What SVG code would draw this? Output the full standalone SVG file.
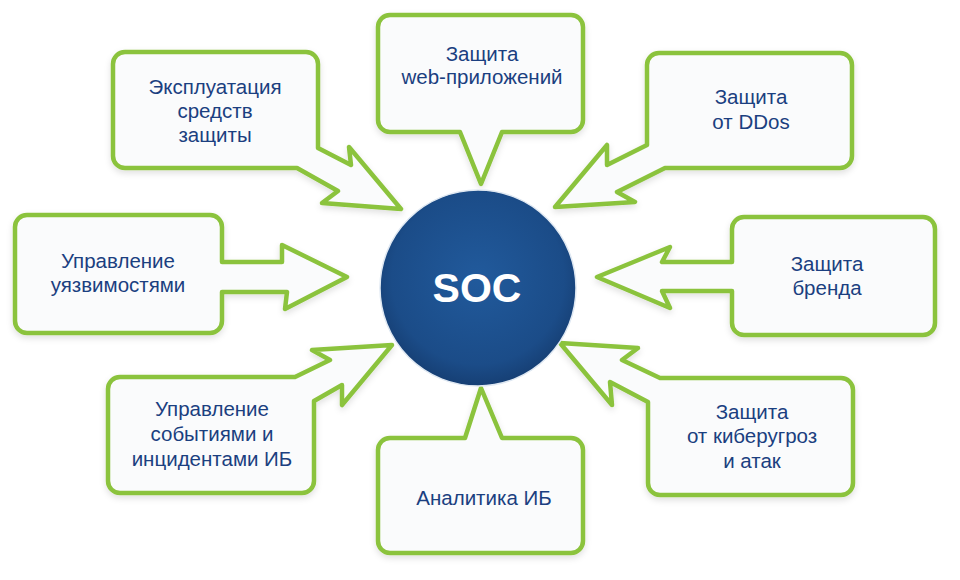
<svg xmlns="http://www.w3.org/2000/svg" width="960" height="580" viewBox="0 0 960 580">
<defs>
<radialGradient id="socFill" cx="50%" cy="45%" r="55%">
<stop offset="0" stop-color="#215a9c"/>
<stop offset="0.8" stop-color="#1b4c88"/>
<stop offset="1" stop-color="#163f74"/>
</radialGradient>
<filter id="sh" x="-10%" y="-10%" width="120%" height="130%">
<feDropShadow dx="0" dy="3" stdDeviation="3" flood-color="#000" flood-opacity="0.12"/>
</filter>
<style>
.box{fill:#fafbfc;stroke:#8bc33c;stroke-width:4.5;stroke-linejoin:round;filter:url(#sh)}
.lbl{font-family:"Liberation Sans",Arial,sans-serif;font-size:20.5px;fill:#1b3f80;text-anchor:middle}
.soc{font-family:"Liberation Sans",Arial,sans-serif;font-size:41px;font-weight:bold;fill:#ffffff;text-anchor:middle}
</style>
</defs>
<rect width="960" height="580" fill="#ffffff"/>

<g id="node-exploit">
<path class="box" d="M125,52 H306 A12,12 0 0 1 318,64 V148 L351,165 L349,147 L401,209 L322,203 L338,191 L297,168 H125 A12,12 0 0 1 113,156 V64 A12,12 0 0 1 125,52 Z"/>
<text class="lbl" x="215" y="94">Эксплуатация</text>
<text class="lbl" x="215" y="118">средств</text>
<text class="lbl" x="215" y="142">защиты</text>
</g>

<g id="node-web">
<path class="box" d="M390,15 H571 A12,12 0 0 1 583,27 V120 A12,12 0 0 1 571,132 H502 L481,184 L460,132 H390 A12,12 0 0 1 378,120 V27 A12,12 0 0 1 390,15 Z"/>
<text class="lbl" x="482" y="61">Защита</text>
<text class="lbl" x="482" y="84">web-приложений</text>
</g>

<g id="node-ddos">
<path class="box" d="M659,53 H840 A12,12 0 0 1 852,65 V156 A12,12 0 0 1 840,168 H665 L617,192 L635,202 L555,207 L607,145 L607,165 L647,145 V65 A12,12 0 0 1 659,53 Z"/>
<text class="lbl" x="751" y="104">Защита</text>
<text class="lbl" x="751" y="129">от DDos</text>
</g>

<g id="node-vuln">
<path class="box" d="M27,215 H210 A12,12 0 0 1 222,227 V262 H282 L282,245 L347,277 L285,309 L287,292 H222 V321 A12,12 0 0 1 210,333 H27 A12,12 0 0 1 15,321 V227 A12,12 0 0 1 27,215 Z"/>
<text class="lbl" x="118" y="268">Управление</text>
<text class="lbl" x="118" y="292">уязвимостями</text>
</g>

<g id="node-brand">
<path class="box" d="M744,217 H923 A12,12 0 0 1 935,229 V323 A12,12 0 0 1 923,335 H744 A12,12 0 0 1 732,323 V291 H662 L670,308 L597,277 L670,247 L662,262 H732 V229 A12,12 0 0 1 744,217 Z"/>
<text class="lbl" x="827" y="271">Защита</text>
<text class="lbl" x="827" y="295">бренда</text>
</g>

<g id="node-events">
<path class="box" d="M120,377 H295 L330,360 L312,350 L392,345 L342,405 L342,385 L314,401 V481 A12,12 0 0 1 302,493 H120 A12,12 0 0 1 108,481 V389 A12,12 0 0 1 120,377 Z"/>
<text class="lbl" x="212" y="416">Управление</text>
<text class="lbl" x="212" y="441">событиями и</text>
<text class="lbl" x="212" y="466">инцидентами ИБ</text>
</g>

<g id="node-analytics">
<path class="box" d="M390,438 H465 L481,388 L502,438 H571 A12,12 0 0 1 583,450 V541 A12,12 0 0 1 571,553 H390 A12,12 0 0 1 378,541 V450 A12,12 0 0 1 390,438 Z"/>
<text class="lbl" x="484" y="505">Аналитика ИБ</text>
</g>

<g id="node-cyber">
<path class="box" d="M660,378 H841 A12,12 0 0 1 853,390 V483 A12,12 0 0 1 841,495 H660 A12,12 0 0 1 648,483 V402 L610,382 L612,405 L560,343 L638,348 L622,360 Z"/>
<text class="lbl" x="752" y="419">Защита</text>
<text class="lbl" x="752" y="443">от киберугроз</text>
<text class="lbl" x="752" y="468">и атак</text>
</g>

<g id="node-soc">
<circle cx="478" cy="288" r="98" fill="url(#socFill)" stroke="#dfe8f2" stroke-width="1.5"/>
<text class="soc" x="477" y="302">SOC</text>
</g>
</svg>
